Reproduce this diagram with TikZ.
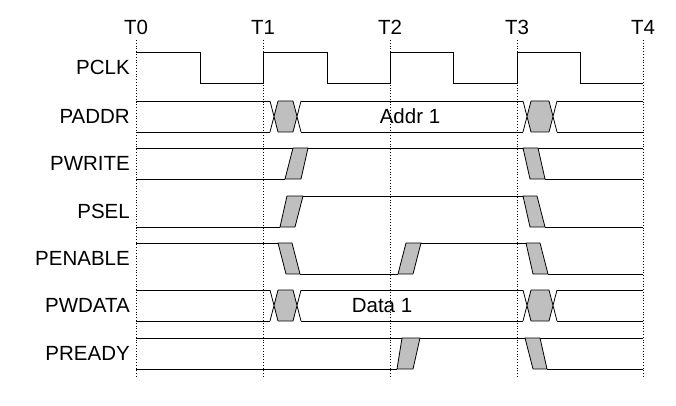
\documentclass[tikz,border=0pt]{standalone}
\usepackage{fontspec}
\setmainfont{Liberation Sans}
\begin{document}
\begin{tikzpicture}[x=1pt,y=-1pt,
  sig/.style={line width=0.8pt},
  band/.style={fill=black!25,draw=black,line width=0.8pt,line join=round},
  tick/.style={dotted,line width=0.8pt},
  lab/.style={font=\fontsize{20.5}{20.5}\selectfont,anchor=east,inner sep=0pt},
  tl/.style={font=\fontsize{20.5}{20.5}\selectfont,inner sep=0pt}]
\useasboundingbox (0,0) rectangle (676,406);
% time markers
\foreach \n/\x in {0/136,1/263,2/390,3/517,4/643}{
  \node[tl] (t\n) at (\x,27) {T\n};
  \draw[tick] (\x,40) -- (\x,378);
}
% labels
\foreach \n/\t/\y in {a/PCLK/67,b/PADDR/116,c/PWRITE/163,d/PSEL/211,e/PENABLE/258,f/PWDATA/305,g/PREADY/353}{
  \node[lab] (\n) at (130,\y) {\t};
}
% PCLK
\draw[sig] (136,52) -- (200,52) -- (200,83) -- (263,83) -- (263,52) -- (327,52) -- (327,83) -- (390,83) -- (390,52) -- (453,52) -- (453,83) -- (517,83) -- (517,52) -- (580,52) -- (580,83) -- (643,83);
% bus macro
\newcommand\busx[5]{%
  \fill[black!25] (#1+4,#3/2+#4/2) -- (#1+8,#3) -- (#2,#3) -- (#2+4,#3/2+#4/2) -- (#2,#4) -- (#1+8,#4) -- cycle;
  \draw[sig] (#1,#3) -- (#1+8,#4) (#1,#4) -- (#1+8,#3) (#2,#3) -- (#2+8,#4) (#2,#4) -- (#2+8,#3)
    (#1+8,#3) -- (#2,#3) (#1+8,#4) -- (#2,#4);}
% PADDR
\draw[sig] (136,101) -- (270,101) (136,132) -- (270,132)
  (301,101) -- (523,101) (301,132) -- (523,132)
  (557,101) -- (643,101) (557,132) -- (643,132);
\busx{270}{293}{101}{132}{}
\busx{523}{549}{101}{132}{}
\node[tl] (addr) at (410,116) {Addr 1};
% PWDATA
\draw[sig] (136,290) -- (270,290) (136,321) -- (270,321)
  (301,290) -- (523,290) (301,321) -- (523,321)
  (557,290) -- (643,290) (557,321) -- (643,321);
\busx{270}{293}{290}{321}{}
\busx{523}{549}{290}{321}{}
\node[tl] (data) at (382,306) {Data 1};
% PWRITE
\draw[sig] (136,148) -- (293,148) (308,148) -- (523,148) (538,148) -- (643,148)
  (136,179) -- (285,179) (545,179) -- (643,179);
\draw[band] (285,179) -- (293,148) -- (308,148) -- (301,179) -- cycle;
\draw[band] (523,148) -- (538,148) -- (545,179) -- (530,179) -- cycle;
% PSEL
\draw[sig] (136,227) -- (280,227) (303,196) -- (523,196) (545,227) -- (643,227);
\draw[band] (280,227) -- (287,196) -- (303,196) -- (295,227) -- cycle;
\draw[band] (523,196) -- (537,196) -- (545,227) -- (530,227) -- cycle;
% PENABLE
\draw[sig] (136,243) -- (278,243) (300,274) -- (398,274) (421,243) -- (526,243) (548,274) -- (643,274);
\draw[band] (278,243) -- (292,243) -- (300,274) -- (286,274) -- cycle;
\draw[band] (398,274) -- (406,243) -- (421,243) -- (413,274) -- cycle;
\draw[band] (526,243) -- (540,243) -- (548,274) -- (533,274) -- cycle;
% PREADY
\draw[sig] (136,338) -- (402,338) (420,338) -- (525,338) (540,338) -- (643,338)
  (136,369) -- (397,369) (547,369) -- (643,369);
\draw[band] (397,369) -- (402,338) -- (420,338) -- (413,369) -- cycle;
\draw[band] (525,338) -- (540,338) -- (547,369) -- (533,369) -- cycle;
\end{tikzpicture}
\end{document}
